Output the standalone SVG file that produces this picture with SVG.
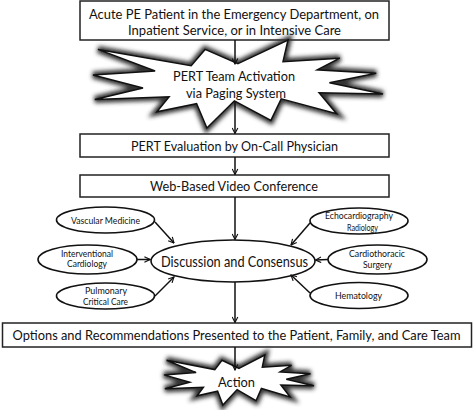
<svg xmlns="http://www.w3.org/2000/svg" width="474" height="410" viewBox="0 0 474 410">
<defs>
<style>
.box{fill:#fff;stroke:#222;stroke-width:1.5}
.ell{fill:#fff;stroke:#111;stroke-width:1.6}
.burst{fill:#fff;stroke:#111;stroke-width:1.5;stroke-linejoin:miter}
.glow{fill:none;stroke:#333;stroke-width:7;stroke-linejoin:miter;filter:url(#blur)}
.t{font-family:Lato,"Liberation Sans",Arial,sans-serif;font-size:14px;fill:#111;text-anchor:middle}
.s{font-family:Lato,"Liberation Sans",Arial,sans-serif;font-size:9.5px;fill:#111;text-anchor:middle}
.c{stroke:#111;stroke-width:1.5;fill:none;marker-end:url(#ah)}
</style>
<filter id="blur" x="-20%" y="-40%" width="140%" height="180%"><feGaussianBlur stdDeviation="2.2"/></filter>
<marker id="ah" viewBox="0 0 10 10" refX="9" refY="5" markerWidth="7" markerHeight="7" markerUnits="userSpaceOnUse" orient="auto"><path d="M1,1 L9,5 L1,9" fill="none" stroke="#111" stroke-width="1.6"/></marker>
<path id="b1" d="M238,63.6 L288,40 L283,61.7 L339.8,58.2 L317.2,69.8 L376.2,73.2 L329.4,82.7 L383,94.1 L319.1,92.7 L336.6,113.7 L281.2,98.9 L270.9,120.4 L234.4,100.8 L206.9,128 L196.6,103.7 L156.9,111.8 L169.1,96.8 L94.8,99.4 L143,88 L93,75.1 L155.1,71 L98,49.4 L191.2,65.7 L205.1,49.4 Z"/>
<path id="b2" d="M239,368.4 L264.8,355 L262.3,367.3 L291.6,365.3 L280,371.9 L310.5,373.8 L286.3,379.2 L314,385.8 L280.9,385 L290,396.9 L261.4,388.5 L256,400.7 L237.1,389.6 L222.9,405 L217.6,391.2 L197.1,395.8 L203.4,387.3 L164.9,388.8 L189.8,382.3 L164,374.9 L196.1,372.6 L166.6,360.3 L214.8,369.6 L222,360.3 Z"/>
</defs>
<rect width="474" height="410" fill="#fff"/>

<g id="node-patient">
<rect class="box" x="80" y="1" width="309" height="39"/>
<text class="t" x="234" y="19" textLength="290" lengthAdjust="spacingAndGlyphs">Acute PE Patient in the Emergency Department, on</text>
<text class="t" x="234.5" y="34.5" textLength="213" lengthAdjust="spacingAndGlyphs">Inpatient Service, or in Intensive Care</text>
</g>

<g id="node-activation">
<use href="#b1" class="glow"/>
<use href="#b1" class="burst"/>
<text class="t" x="234" y="81" textLength="122" lengthAdjust="spacingAndGlyphs">PERT Team Activation</text>
<text class="t" x="236" y="98" textLength="100" lengthAdjust="spacingAndGlyphs">via Paging System</text>
</g>

<g id="node-evaluation">
<rect class="box" x="80" y="134" width="309" height="23"/>
<text class="t" x="234.5" y="150.5" textLength="207" lengthAdjust="spacingAndGlyphs">PERT Evaluation by On-Call Physician</text>
</g>

<g id="node-video">
<rect class="box" x="80" y="175" width="309" height="22"/>
<text class="t" x="234" y="191" textLength="168" lengthAdjust="spacingAndGlyphs">Web-Based Video Conference</text>
</g>

<g id="node-discussion">
<ellipse class="ell" cx="233" cy="261" rx="82" ry="21"/>
<text class="t" x="234.5" y="266.5" style="font-size:15px" textLength="147" lengthAdjust="spacingAndGlyphs">Discussion and Consensus</text>
</g>

<g id="node-vascular">
<ellipse class="ell" cx="105.5" cy="220" rx="49" ry="13"/>
<text class="s" x="105.5" y="223.5" textLength="69" lengthAdjust="spacingAndGlyphs">Vascular Medicine</text>
</g>
<g id="node-interventional">
<ellipse class="ell" cx="87.5" cy="259.5" rx="49.5" ry="14.5"/>
<text class="s" x="87" y="256.5" textLength="52" lengthAdjust="spacingAndGlyphs">Interventional</text>
<text class="s" x="87" y="267" textLength="40" lengthAdjust="spacingAndGlyphs">Cardiology</text>
</g>
<g id="node-pulmonary">
<ellipse class="ell" cx="105.5" cy="296" rx="49" ry="13"/>
<text class="s" x="106" y="294" textLength="42" lengthAdjust="spacingAndGlyphs">Pulmonary</text>
<text class="s" x="105.5" y="305" textLength="45" lengthAdjust="spacingAndGlyphs">Critical Care</text>
</g>
<g id="node-echo">
<ellipse class="ell" cx="359" cy="221" rx="49" ry="13"/>
<text class="s" x="359" y="218.5" textLength="68" lengthAdjust="spacingAndGlyphs">Echocardiography</text>
<text class="s" x="362.5" y="230.5" textLength="31" lengthAdjust="spacingAndGlyphs">Radiology</text>
</g>
<g id="node-cardiothoracic">
<ellipse class="ell" cx="377.5" cy="259.5" rx="49.5" ry="14.5"/>
<text class="s" x="377" y="256.5" textLength="56" lengthAdjust="spacingAndGlyphs">Cardiothoracic</text>
<text class="s" x="377.5" y="267.5" textLength="29" lengthAdjust="spacingAndGlyphs">Surgery</text>
</g>
<g id="node-hematology">
<ellipse class="ell" cx="359" cy="295.5" rx="49" ry="13"/>
<text class="s" x="358.5" y="299" textLength="47" lengthAdjust="spacingAndGlyphs">Hematology</text>
</g>

<g id="node-options">
<rect class="box" x="2.5" y="323" width="469" height="24"/>
<text class="t" x="236.5" y="340" textLength="448" lengthAdjust="spacingAndGlyphs">Options and Recommendations Presented to the Patient, Family, and Care Team</text>
</g>

<g id="node-action">
<use href="#b2" class="glow"/>
<use href="#b2" class="burst"/>
<text class="t" x="236.5" y="387" textLength="37" lengthAdjust="spacingAndGlyphs">Action</text>
</g>

<g id="connectors">
<line class="c" x1="235" y1="40" x2="235" y2="64"/>
<line class="c" x1="235" y1="101" x2="235" y2="133.5"/>
<line class="c" x1="235" y1="157" x2="235" y2="174.5"/>
<line class="c" x1="235" y1="197" x2="235" y2="239.5"/>
<line class="c" x1="235" y1="282" x2="235" y2="322.5"/>
<line class="c" x1="235" y1="347" x2="235" y2="370"/>
<line class="c" x1="155" y1="222" x2="174" y2="243"/>
<line class="c" x1="137" y1="259.5" x2="150" y2="259.5"/>
<line class="c" x1="155" y1="296" x2="174" y2="277"/>
<line class="c" x1="310" y1="223" x2="291" y2="245"/>
<line class="c" x1="328" y1="259.5" x2="315.5" y2="260"/>
<line class="c" x1="310" y1="293" x2="291" y2="275"/>
</g>
</svg>
